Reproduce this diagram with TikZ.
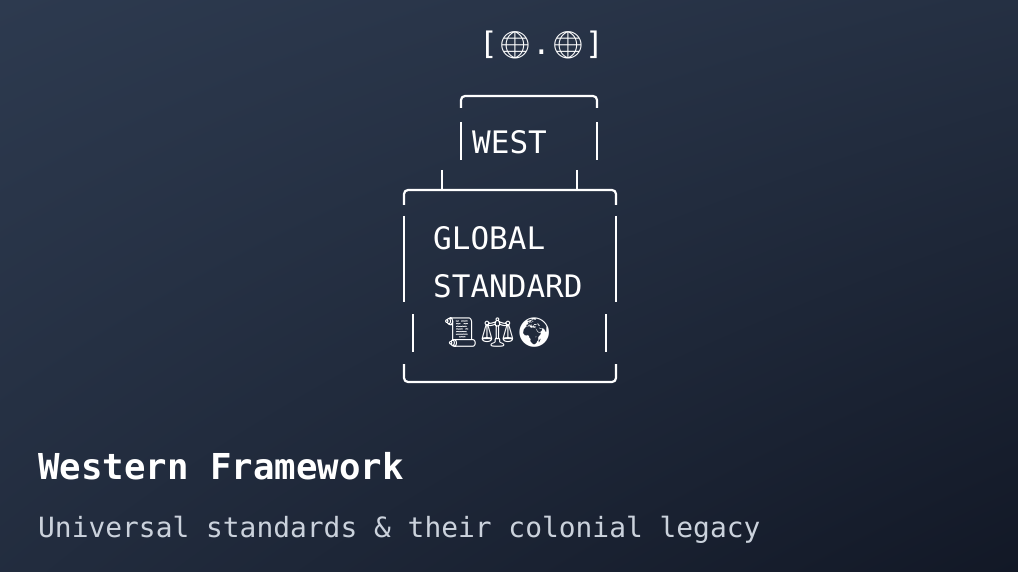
\documentclass[tikz,border=0pt]{standalone}
\usepackage{fontspec}
\setmonofont{DejaVu Sans Mono}
\newfontfamily\emojifont{Noto Emoji}
\usetikzlibrary{shadings}
\definecolor{bgtl}{HTML}{2D3A4F}
\definecolor{bgbr}{HTML}{121826}
\definecolor{subgray}{HTML}{CBD2DC}
\begin{document}
\begin{tikzpicture}[%
		x=1pt,
		y=-1pt,
		boxline/.style={%
			draw=white,
			line width=2.2pt,
			rounded corners=4pt
		},
		mono/.style={%
			text=white,
			font=\ttfamily\fontsize{31}{31}\selectfont,
			anchor=west,
			inner sep=0pt
		}
		]
		\shade[upper left=bgtl, upper right=bgtl!70!bgbr, lower left=bgtl!60!bgbr, lower right=bgbr] (0,0) rectangle (1018,572);
		\useasboundingbox (0,0) rectangle (1018,572);
		
		\node[mono] (face) at (479,45) {[{\emojifont\fontsize{27}{27}\selectfont 🌐}.{\emojifont\fontsize{27}{27}\selectfont 🌐}]};
		
		% upper box
		\draw[boxline] (461,108) -- (461,96) -- (597,96) -- (597,108);
		\draw[boxline] (461,122) -- (461,160);
		\draw[boxline] (597,122) -- (597,160);
		\node[mono] (west) at (472,142) {WEST};
		
		% links
		\coordinate (lt) at (442,170);
		\coordinate (rt) at (577,170);
		\draw[boxline] (lt) -- (442,190);
		\draw[boxline] (rt) -- (577,190);
		
		% lower box
		\draw[boxline] (404,205) -- (404,190) -- (616,190) -- (616,205);
		\draw[boxline] (404,216) -- (404,302);
		\draw[boxline] (616,216) -- (616,302);
		\draw[boxline, rounded corners=0pt] (413,314) -- (413,352);
		\draw[boxline, rounded corners=0pt] (606,314) -- (606,352);
		\draw[boxline] (404,364) -- (404,382) -- (616,382) -- (616,364);
		\node[mono] (global) at (433,238) {GLOBAL};
		\node[mono] (standard) at (433,286) {STANDARD};
		\node[mono, font=\emojifont\fontsize{29}{29}\selectfont] (icons) at (442,333) {📜⚖🌍};
		
		\node[mono, font=\ttfamily\bfseries\fontsize{35.7}{36}\selectfont] (title) at (38,466) {Western Framework};
		\node[mono, text=subgray, font=\ttfamily\fontsize{27.9}{28}\selectfont] (subtitle) at (38,530) {Universal standards \& their colonial legacy};
\end{tikzpicture}
\end{document}
